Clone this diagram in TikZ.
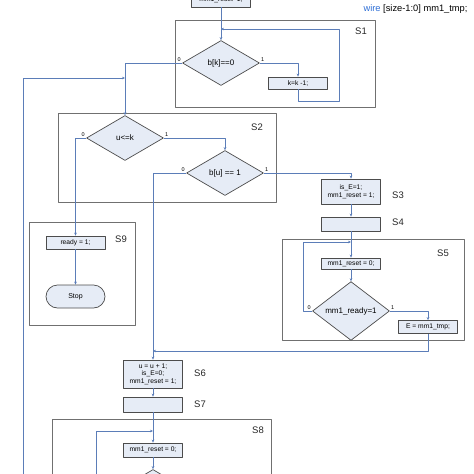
\documentclass[tikz,border=0pt]{standalone}
\usepackage{fontspec}
\setmainfont{Liberation Sans}
\usetikzlibrary{shapes.geometric,arrows.meta}
\definecolor{flowblue}{HTML}{5B7DB8}
\definecolor{boxfill}{HTML}{E6ECF6}
\definecolor{framegray}{HTML}{707070}
\definecolor{wireblue}{HTML}{2F6FD6}
\begin{document}
\begin{tikzpicture}[x=1pt, y=-1pt, line join=round, >={Stealth[length=3pt,width=2.6pt]},
	proc/.style={draw=black!70, fill=boxfill, line width=.7pt, minimum width=59pt, minimum height=#1, inner sep=0pt, font=\fontsize{6.7}{7.6}\selectfont, align=center},
	proc/.default=13pt,
	cond/.style={diamond, draw=black!70, fill=boxfill, line width=.7pt, minimum width=77pt, minimum height=45pt, inner sep=0pt, font=\fontsize{8}{8}\selectfont},
	frame/.style={draw=framegray, line width=.9pt},
	flow/.style={draw=flowblue, line width=.7pt},
	tag/.style={font=\fontsize{9.5}{10}\selectfont, text=black!85},
	bit/.style={font=\fontsize{5.5}{5.5}\selectfont, inner sep=1pt}]
		\path[use as bounding box, clip] (0,0) rectangle (474,474);
		% S1
		\node[proc=14pt] (init) at (221,0) {mm1\_reset=1;};
		\draw[frame] (175,20) rectangle (375,107);
		\node[tag] (t1) at (361,31) {S1};
		\node[cond] (bk) at (221,63) {b[k]==0};
		\node[proc=12pt] (dec) at (298,83) {k=k -1;};
		% S2
		\draw[frame] (58,113) rectangle (276,202);
		\node[tag] (t2) at (257,127) {S2};
		\node[cond] (uk) at (125,138) {u<=k};
		\node[cond] (bu) at (225,173) {b[u] == 1};
		% S3, S4
		\node[proc=25pt] (s3) at (351,191.5) {is\_E=1;\\mm1\_reset = 1;};
		\node[tag] (t3) at (398,195) {S3};
		\node[proc=14pt] (s4) at (351,224) {};
		\node[tag] (t4) at (398,222) {S4};
		% S5
		\draw[frame] (282,239) rectangle (464,340);
		\node[tag] (t5) at (443,253) {S5};
		\node[proc=11pt] (rst5) at (351,263.5) {mm1\_reset = 0;};
		\node[cond] (rdy) at (351,311) {mm1\_ready=1};
		\node[proc=13pt] (get) at (428,327) {E = mm1\_tmp;};
		% S9
		\draw[frame] (29,222) rectangle (135,325);
		\node[tag] (t9) at (121,239) {S9};
		\node[proc=13pt] (ready) at (75.5,242.5) {ready = 1;};
		\node[proc=23pt, rounded corners=11.5pt, font=\fontsize{7}{7}\selectfont] (stop) at (75.5,296.5) {Stop};
		% S6, S7
		\node[proc=28pt] (s6) at (153,374) {u = u + 1;\\is\_E=0;\\mm1\_reset = 1;};
		\node[tag] (t6) at (200,373) {S6};
		\node[proc=15pt] (s7) at (153,404.5) {};
		\node[tag] (t7) at (200,404) {S7};
		% S8
		\draw[frame] (52,419) rectangle (271,500);
		\node[tag] (t8) at (258,430) {S8};
		\node[proc=14pt] (rst8) at (153,450) {mm1\_reset = 0;};
		\node[cond] (d8) at (153,492) {};
		\node[anchor=east, font=\fontsize{9.3}{10}\selectfont] (wire) at (471,9) {\textcolor{wireblue}{wire} [size-1:0] mm1\_tmp;};
		% connectors
		\coordinate (loop1) at (221,29);
		\coordinate (back) at (125,78);
		\coordinate (loop5) at (351,242);
		\coordinate (join6) at (153,351);
		\coordinate (loop8) at (153,431);
		\draw[flow,->] (init.south) -- (bk.north);
		\draw[flow,->] (bk.east) node[bit, above right]{1} -| (dec.north);
		\draw[flow,->] (dec.south) |- (339,101) |- (loop1);
		\draw[flow,->] (bk.west) node[bit, above left]{0} -| (uk.north);
		\draw[flow,->] (23,480) |- (back);
		\draw[flow,->] (uk.west) node[bit, above left]{0} -| (ready.north);
		\draw[flow,->] (uk.east) node[bit, above right]{1} -| (bu.north);
		\draw[flow,->] (bu.west) node[bit, above left]{0} -| (s6.north);
		\draw[flow,->] (bu.east) node[bit, above right]{1} -| (s3.north);
		\draw[flow,->] (s3) -- (s4);
		\draw[flow,->] (s4) -- (rst5);
		\draw[flow,->] (rst5) -- (rdy);
		\draw[flow,->] (rdy.west) node[bit, above left]{0} -| (303,242) -- (loop5);
		\draw[flow,->] (rdy.east) node[bit, above right]{1} -| (get.north);
		\draw[flow,->] (get.south) |- (join6);
		\draw[flow,->] (ready) -- (stop);
		\draw[flow,->] (s6) -- (s7);
		\draw[flow,->] (s7) -- (rst8);
		\draw[flow,->] (96,480) |- (loop8);
		\draw[flow,->] (rst8) -- (d8);
	\end{tikzpicture}
\end{document}
